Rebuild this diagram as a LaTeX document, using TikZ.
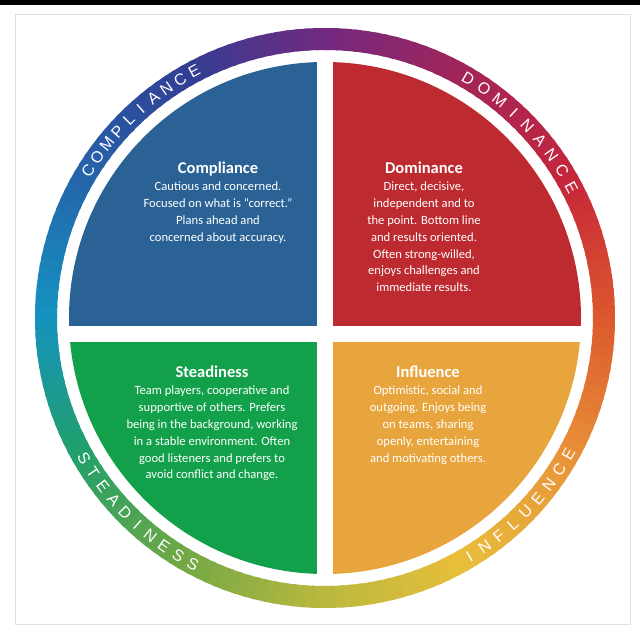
\documentclass[tikz,border=0pt]{standalone}
\usepackage{fontspec}
\setmainfont{Carlito}
\newfontfamily\ringfont{Liberation Sans}
\definecolor{qblue}{HTML}{2A6295}
\definecolor{qred}{HTML}{BD2A2F}
\definecolor{qgreen}{HTML}{12A04A}
\definecolor{qorange}{HTML}{E8A53D}
\definecolor{r090}{HTML}{74287E}
\definecolor{r060}{HTML}{A42556}
\definecolor{r030}{HTML}{C6263A}
\definecolor{r000}{HTML}{DD5A2C}
\definecolor{rm30}{HTML}{E8953A}
\definecolor{rm60}{HTML}{E8BE3A}
\definecolor{rm90}{HTML}{B9B83E}
\definecolor{rm120}{HTML}{6FA845}
\definecolor{rm150}{HTML}{22A06A}
\definecolor{r180}{HTML}{1592C0}
\definecolor{r150}{HTML}{2563AA}
\definecolor{r120}{HTML}{323E93}
\tikzset{
  title/.style={font=\bfseries\fontsize{16.5}{18}\selectfont, text=white, anchor=base, inner sep=0},
  body/.style={font=\fontsize{12.6}{16.8}\selectfont, text=white, align=center, anchor=north, inner sep=0},
  ringletter/.style={font=\ringfont\fontsize{16}{16}\selectfont, text=white, inner sep=0}
}
\newcommand{\ringseg}[4]{%
  \foreach \i in {0,...,14}{%
    \pgfmathsetmacro\p{100*\i/15}%
    \pgfmathsetmacro\s{#1+(#2-#1)*\i/15}%
    \pgfmathsetmacro\e{#1+(#2-#1)*(\i+1.4)/15}%
    \colorlet{tmpc}{#4!\p!#3}%
    \draw[tmpc, line width=22] ({325+279*cos(\s)},{319+279*sin(\s)}) arc[start angle=\s, end angle=\e, radius=279];
  }}
\begin{document}
\begin{tikzpicture}[x=1pt,y=1pt]
\useasboundingbox (0,0) rectangle (640,637);
\fill[white] (0,0) rectangle (640,637);
\fill[black] (0,632) rectangle (640,637);
\draw[black!12, line width=1] (15,12) rectangle (630,622);
% ring
\ringseg{90}{60}{r090}{r060}
\ringseg{60}{30}{r060}{r030}
\ringseg{30}{0}{r030}{r000}
\ringseg{0}{-30}{r000}{rm30}
\ringseg{-30}{-60}{rm30}{rm60}
\ringseg{-60}{-90}{rm60}{rm90}
\ringseg{-90}{-120}{rm90}{rm120}
\ringseg{-120}{-150}{rm120}{rm150}
\ringseg{-150}{-180}{rm150}{r180}
\ringseg{180}{150}{r180}{r150}
\ringseg{150}{120}{r150}{r120}
\ringseg{120}{90}{r120}{r090}
% quadrants
\begin{scope}
\clip (325,319) circle[radius=256];
\fill[qblue] (60,311) rectangle (317,580);
\fill[qred] (333,311) rectangle (590,580);
\fill[qgreen] (60,295) rectangle (317,50);
\fill[qorange] (333,295) rectangle (590,50);
\end{scope}
% ring labels
\foreach \ch [count=\i] in {C,O,M,P,L,I,A,N,C,E}{
  \pgfmathsetmacro\a{133-(\i-5.5)*3.35}
  \node[ringletter, rotate=\a-90] (cl\i) at ({325+279*cos(\a)},{319+279*sin(\a)}) {\ch};}
\foreach \ch [count=\i] in {D,O,M,I,N,A,N,C,E}{
  \pgfmathsetmacro\a{43.5-(\i-5)*3.9}
  \node[ringletter, rotate=\a-90] (dl\i) at ({325+279*cos(\a)},{319+279*sin(\a)}) {\ch};}
\foreach \ch [count=\i] in {I,N,F,L,U,E,N,C,E}{
  \pgfmathsetmacro\a{-44+(\i-5)*3.7}
  \node[ringletter, rotate=\a+90] (il\i) at ({325+279*cos(\a)},{319+279*sin(\a)}) {\ch};}
\foreach \ch [count=\i] in {S,T,E,A,D,I,N,E,S,S}{
  \pgfmathsetmacro\a{-134+(\i-5.5)*3.5}
  \node[ringletter, rotate=\a+90] (sl\i) at ({325+279*cos(\a)},{319+279*sin(\a)}) {\ch};}
% texts
\node[title] (ct) at (218,463) {Compliance};
\node[body] (cb) at (218,455) {Cautious and concerned.\\Focused on what is “correct.”\\Plans ahead and\\concerned about accuracy.};
\node[title] (dt) at (424,463) {Dominance};
\node[body] (db) at (424,455) {Direct, decisive,\\independent and to\\the point. Bottom line\\and results oriented.\\Often strong-willed,\\enjoys challenges and\\immediate results.};
\node[title] (st) at (212,259) {Steadiness};
\node[body] (sb) at (212,251) {Team players, cooperative and\\supportive of others. Prefers\\being in the background, working\\in a stable environment. Often\\good listeners and prefers to\\avoid conflict and change.};
\node[title] (it) at (428,259) {Influence};
\node[body] (ib) at (428,251) {Optimistic, social and\\outgoing. Enjoys being\\on teams, sharing\\openly, entertaining\\and motivating others.};
\end{tikzpicture}
\end{document}
